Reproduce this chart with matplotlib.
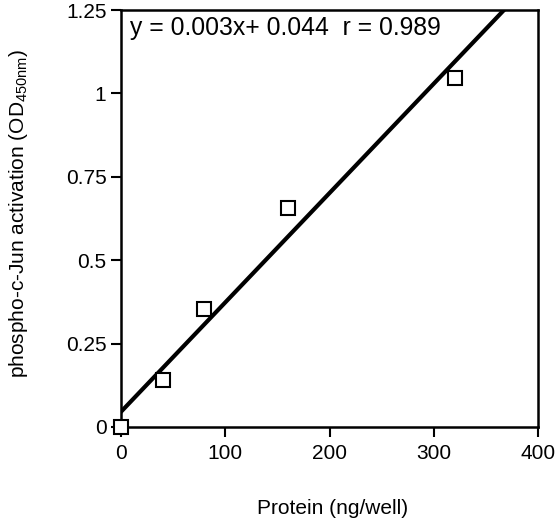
import matplotlib.pyplot as plt
import numpy as np

plt.rcParams['font.family'] = ['Liberation Sans', 'DejaVu Sans']
plt.rcParams['mathtext.fontset'] = 'custom'
plt.rcParams['mathtext.rm'] = 'Liberation Sans'
plt.rcParams['mathtext.it'] = 'Liberation Sans'

# data
protein = [0, 40, 80, 160, 320]
od450 = [0.0, 0.14, 0.355, 0.655, 1.045]
xticks = [0, 100, 200, 300, 400]
yticks = [0, 0.25, 0.5, 0.75, 1, 1.25]
ytick_labels = ['0', '0.25', '0.5', '0.75', '1', '1.25']

slope, intercept = np.polyfit(protein, od450, 1)

fig = plt.figure(figsize=(5.57, 5.21), dpi=100)
ax = fig.add_axes([121/557, 1 - 427/521, (538 - 121)/557, (427 - 10)/521])

xs = np.array([0, 400])
ax.plot(xs, slope*xs + intercept, color='k', lw=3, zorder=2)
ax.plot(protein, od450, 's', ms=10, mfc='white', mec='k', mew=1.5,
        clip_on=False, zorder=3)

ax.set_xlim(0, 400)
ax.set_ylim(0, 1.25)
ax.set_xticks(xticks)
ax.set_yticks(yticks)
ax.set_yticklabels(ytick_labels)
ax.tick_params(direction='out', length=7.5, width=1.5, labelsize=15)
ax.tick_params(axis='x', pad=5)
ax.tick_params(axis='y', pad=3)
for s in ax.spines.values():
    s.set_linewidth(1.8)

ax.text(0.022, 0.985, 'y = 0.003x+ 0.044  r = 0.989', transform=ax.transAxes,
        fontsize=17.8, va='top', ha='left')

ax.set_xlabel('Protein (ng/well)', fontsize=15)
ax.xaxis.set_label_coords(0.508, -0.173)
ax.set_ylabel(r'phospho-c-Jun activation (OD$_{\mathregular{450nm}}$)', fontsize=15)
ax.yaxis.set_label_coords(-0.218, 0.512)

fig.savefig('out.png', dpi=100)
